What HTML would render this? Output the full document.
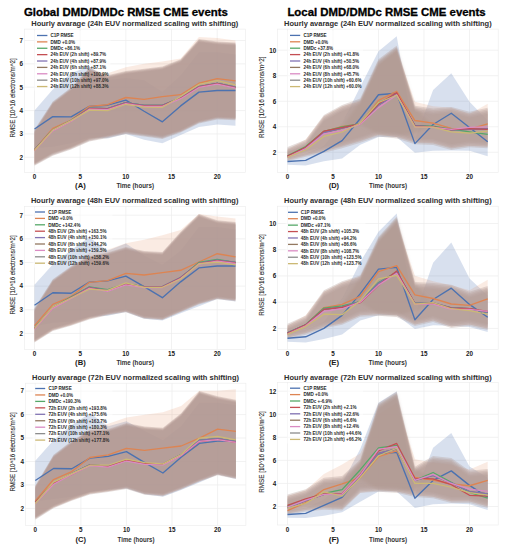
<!DOCTYPE html>
<html><head><meta charset="utf-8"><title>DMD/DMDc RMSE CME events</title>
<style>html,body{margin:0;padding:0;background:#fff;}svg{display:block;}text{font-family:"Liberation Sans",sans-serif;}</style>
</head><body>
<svg width="506" height="550" viewBox="0 0 506 550" font-family='"Liberation Sans", sans-serif' fill="#1a1a1a">
<defs><filter id="soft" x="-20%" y="-20%" width="140%" height="140%"><feGaussianBlur stdDeviation="1.6"/></filter></defs>
<rect width="506" height="550" fill="#fff"/>
<text x="23.9" y="15.7" font-size="10.6" font-weight="bold" text-anchor="start" textLength="204" lengthAdjust="spacingAndGlyphs" stroke="#000" stroke-width="0.3" fill="#000">Global DMD/DMDc RMSE CME events</text>
<text x="287.4" y="15.7" font-size="10.6" font-weight="bold" text-anchor="start" textLength="198.3" lengthAdjust="spacingAndGlyphs" stroke="#000" stroke-width="0.3" fill="#000">Local DMD/DMDc RMSE CME events</text>
<g stroke="#ededed" stroke-width="0.7" fill="none">
<line x1="24.4" y1="157.3" x2="245.4" y2="157.3"/>
<line x1="24.4" y1="133.94" x2="245.4" y2="133.94"/>
<line x1="24.4" y1="110.58" x2="245.4" y2="110.58"/>
<line x1="24.4" y1="87.22" x2="245.4" y2="87.22"/>
<line x1="24.4" y1="63.86" x2="245.4" y2="63.86"/>
<line x1="24.4" y1="40.5" x2="245.4" y2="40.5"/>
<line x1="34.5" y1="29.1" x2="34.5" y2="172.3"/>
<line x1="80.17" y1="29.1" x2="80.17" y2="172.3"/>
<line x1="125.85" y1="29.1" x2="125.85" y2="172.3"/>
<line x1="171.53" y1="29.1" x2="171.53" y2="172.3"/>
<line x1="217.2" y1="29.1" x2="217.2" y2="172.3"/>
</g>
<rect x="34.1" y="30.6" width="76.5" height="60" fill="#fff" fill-opacity="0.5"/>
<polygon points="34.5,110.58 52.77,89.56 71.04,73.2 89.31,66.2 107.58,80.21 125.85,77.88 144.12,80.21 162.39,91.89 180.66,75.54 198.93,52.18 217.2,52.18 235.47,54.52 235.47,125.76 217.2,124.6 198.93,126.93 180.66,135.11 162.39,143.28 144.12,139.78 125.85,133.94 107.58,138.61 89.31,137.44 71.04,143.28 52.77,146.79 34.5,147.96" fill="#4c72b0" fill-opacity="0.22"/>
<polygon points="34.5,133.94 52.77,103.57 71.04,89.56 89.31,70.87 107.58,73.2 125.85,67.36 144.12,63.86 162.39,61.52 180.66,58.49 198.93,37 217.2,37.93 235.47,40.5 235.47,118.76 217.2,117.59 198.93,122.26 180.66,131.6 162.39,135.11 144.12,133.94 125.85,131.6 107.58,136.28 89.31,138.61 71.04,147.96 52.77,152.63 34.5,164.31" fill="#dd8452" fill-opacity="0.16"/>
<polygon points="34.5,129.54 52.77,101.5 71.04,87.49 89.31,67.63 107.58,75.34 125.85,70.9 144.12,68.8 162.39,66.46 180.66,59.22 198.93,38.9 217.2,41.47 235.47,42.4 235.47,120.36 217.2,119.42 198.93,123.39 180.66,132.5 162.39,139.04 144.12,136.48 125.85,133.91 107.58,138.11 89.31,141.61 71.04,149.56 52.77,155.86 34.5,165.68" fill="#b19891" fill-opacity="0.35"/>
<polygon points="34.5,130.29 52.77,102.25 71.04,88.24 89.31,68.38 107.58,76.09 125.85,71.65 144.12,69.55 162.39,67.21 180.66,59.97 198.93,39.65 217.2,42.22 235.47,43.15 235.47,119.61 217.2,118.67 198.93,122.64 180.66,131.75 162.39,138.29 144.12,135.73 125.85,133.16 107.58,137.36 89.31,140.86 71.04,148.81 52.77,155.11 34.5,164.93" fill="#b19891" fill-opacity="0.35"/>
<polygon points="34.5,131.04 52.77,103 71.04,88.99 89.31,69.13 107.58,76.84 125.85,72.4 144.12,70.3 162.39,67.96 180.66,60.72 198.93,40.4 217.2,42.97 235.47,43.9 235.47,118.86 217.2,117.92 198.93,121.89 180.66,131 162.39,137.54 144.12,134.98 125.85,132.41 107.58,136.61 89.31,140.11 71.04,148.06 52.77,154.36 34.5,164.18" fill="#b19891" fill-opacity="0.35"/>
<polygon points="34.5,131.79 52.77,103.75 71.04,89.74 89.31,69.88 107.58,77.59 125.85,73.15 144.12,71.05 162.39,68.71 180.66,61.47 198.93,41.15 217.2,43.72 235.47,44.65 235.47,118.11 217.2,117.17 198.93,121.14 180.66,130.25 162.39,136.79 144.12,134.23 125.85,131.66 107.58,135.86 89.31,139.36 71.04,147.31 52.77,153.61 34.5,163.43" fill="#b19891" fill-opacity="0.35"/>
<polygon points="34.5,132.54 52.77,104.5 71.04,90.49 89.31,70.63 107.58,78.34 125.85,73.9 144.12,71.8 162.39,69.46 180.66,62.22 198.93,41.9 217.2,44.47 235.47,45.4 235.47,117.36 217.2,116.42 198.93,120.39 180.66,129.5 162.39,136.04 144.12,133.48 125.85,130.91 107.58,135.11 89.31,138.61 71.04,146.56 52.77,152.86 34.5,162.68" fill="#b19891" fill-opacity="0.35"/>
<polyline points="34.5,129.03 52.77,116.65 71.04,116.89 89.31,106.38 107.58,105.21 125.85,100.07 144.12,111.28 162.39,121.79 180.66,105.91 198.93,92.13 217.2,90.49 235.47,90.49" fill="none" stroke="#4c72b0" stroke-width="1.35" stroke-linejoin="round"/>
<polyline points="34.5,149.59 52.77,128.33 71.04,120.16 89.31,106.38 107.58,104.74 125.85,97.5 144.12,99.37 162.39,96.56 180.66,94.7 198.93,83.25 217.2,78.58 235.47,80.91" fill="none" stroke="#dd8452" stroke-width="1.35" stroke-linejoin="round"/>
<polyline points="34.5,149.82 52.77,129.97 71.04,120.62 89.31,108.24 107.58,108.71 125.85,102.64 144.12,105.44 162.39,105.44 180.66,97.73 198.93,86.52 217.2,83.25 235.47,87.22" fill="none" stroke="#8c8c8c" stroke-width="1.25" stroke-linejoin="round"/>
<polyline points="34.5,149.82 52.77,129.97 71.04,120.62 89.31,108.24 107.58,108.71 125.85,102.64 144.12,105.44 162.39,105.44 180.66,97.73 198.93,86.52 217.2,83.25 235.47,87.22" fill="none" stroke="#937860" stroke-width="1.25" stroke-linejoin="round"/>
<polyline points="34.5,149.82 52.77,129.97 71.04,120.62 89.31,108.24 107.58,108.71 125.85,102.64 144.12,105.44 162.39,105.44 180.66,97.73 198.93,86.52 217.2,83.25 235.47,87.22" fill="none" stroke="#55a868" stroke-width="1.25" stroke-linejoin="round"/>
<polyline points="34.5,149.82 52.77,129.97 71.04,120.62 89.31,108.24 107.58,108.71 125.85,102.64 144.12,105.44 162.39,105.44 180.66,97.73 198.93,86.52 217.2,83.25 235.47,87.22" fill="none" stroke="#8172b3" stroke-width="1.25" stroke-linejoin="round"/>
<polyline points="34.5,150.29 52.77,130.44 71.04,121.09 89.31,108.71 107.58,109.18 125.85,103.1 144.12,105.91 162.39,105.91 180.66,98.2 198.93,86.99 217.2,83.72 235.47,87.69" fill="none" stroke="#c44e52" stroke-width="1.25" stroke-linejoin="round"/>
<polyline points="34.5,150.76 52.77,130.9 71.04,121.56 89.31,109.18 107.58,109.65 125.85,103.57 144.12,106.38 162.39,106.38 180.66,98.67 198.93,87.45 217.2,84.18 235.47,88.15" fill="none" stroke="#da8bc3" stroke-width="1.25" stroke-linejoin="round"/>
<polyline points="34.5,150.53 52.77,129.97 71.04,120.62 89.31,110.11 107.58,110.58 125.85,104.27 144.12,107.08 162.39,107.31 180.66,96.56 198.93,84.42 217.2,80.68 235.47,84.88" fill="none" stroke="#ccb974" stroke-width="1.25" stroke-linejoin="round"/>
<rect x="24.4" y="29.1" width="221" height="143.2" fill="none" stroke="#ececec" stroke-width="0.6"/>
<line x1="37" y1="35.5" x2="47.4" y2="35.5" stroke="#4c72b0" stroke-width="1.3"/>
<text x="50.4" y="37.25" font-size="5" font-weight="bold" text-anchor="start" textLength="23.18" lengthAdjust="spacingAndGlyphs" fill="#2a2a2a">C1P RMSE</text>
<line x1="37" y1="41.88" x2="47.4" y2="41.88" stroke="#dd8452" stroke-width="1.3"/>
<text x="50.4" y="43.63" font-size="5" font-weight="bold" text-anchor="start" textLength="24.65" lengthAdjust="spacingAndGlyphs" fill="#2a2a2a">DMD +0.0%</text>
<line x1="37" y1="48.26" x2="47.4" y2="48.26" stroke="#55a868" stroke-width="1.3"/>
<text x="50.4" y="50.01" font-size="5" font-weight="bold" text-anchor="start" textLength="29.71" lengthAdjust="spacingAndGlyphs" fill="#2a2a2a">DMDc +86.1%</text>
<line x1="37" y1="54.64" x2="47.4" y2="54.64" stroke="#c44e52" stroke-width="1.3"/>
<text x="50.4" y="56.39" font-size="5" font-weight="bold" text-anchor="start" textLength="55.75" lengthAdjust="spacingAndGlyphs" fill="#2a2a2a">24h EUV (2h shift) +89.7%</text>
<line x1="37" y1="61.02" x2="47.4" y2="61.02" stroke="#8172b3" stroke-width="1.3"/>
<text x="50.4" y="62.77" font-size="5" font-weight="bold" text-anchor="start" textLength="55.75" lengthAdjust="spacingAndGlyphs" fill="#2a2a2a">24h EUV (4h shift) +87.9%</text>
<line x1="37" y1="67.4" x2="47.4" y2="67.4" stroke="#937860" stroke-width="1.3"/>
<text x="50.4" y="69.15" font-size="5" font-weight="bold" text-anchor="start" textLength="55.75" lengthAdjust="spacingAndGlyphs" fill="#2a2a2a">24h EUV (6h shift) +87.1%</text>
<line x1="37" y1="73.78" x2="47.4" y2="73.78" stroke="#da8bc3" stroke-width="1.3"/>
<text x="50.4" y="75.53" font-size="5" font-weight="bold" text-anchor="start" textLength="58.28" lengthAdjust="spacingAndGlyphs" fill="#2a2a2a">24h EUV (8h shift) +100.9%</text>
<line x1="37" y1="80.16" x2="47.4" y2="80.16" stroke="#8c8c8c" stroke-width="1.3"/>
<text x="50.4" y="81.91" font-size="5" font-weight="bold" text-anchor="start" textLength="58.28" lengthAdjust="spacingAndGlyphs" fill="#2a2a2a">24h EUV (10h shift) +97.0%</text>
<line x1="37" y1="86.54" x2="47.4" y2="86.54" stroke="#ccb974" stroke-width="1.3"/>
<text x="50.4" y="88.29" font-size="5" font-weight="bold" text-anchor="start" textLength="58.28" lengthAdjust="spacingAndGlyphs" fill="#2a2a2a">24h EUV (12h shift) +88.3%</text>
<text x="23.1" y="159.6" font-size="6.3" font-weight="bold" text-anchor="end">2</text>
<text x="23.1" y="136.24" font-size="6.3" font-weight="bold" text-anchor="end">3</text>
<text x="23.1" y="112.88" font-size="6.3" font-weight="bold" text-anchor="end">4</text>
<text x="23.1" y="89.52" font-size="6.3" font-weight="bold" text-anchor="end">5</text>
<text x="23.1" y="66.16" font-size="6.3" font-weight="bold" text-anchor="end">6</text>
<text x="23.1" y="42.8" font-size="6.3" font-weight="bold" text-anchor="end">7</text>
<text x="34.5" y="179" font-size="6.3" font-weight="bold" text-anchor="middle">0</text>
<text x="80.17" y="179" font-size="6.3" font-weight="bold" text-anchor="middle">5</text>
<text x="125.85" y="179" font-size="6.3" font-weight="bold" text-anchor="middle">10</text>
<text x="171.53" y="179" font-size="6.3" font-weight="bold" text-anchor="middle">15</text>
<text x="217.2" y="179" font-size="6.3" font-weight="bold" text-anchor="middle">20</text>
<text x="31.3" y="26.2" font-size="7" font-weight="bold" text-anchor="start" textLength="207" lengthAdjust="spacingAndGlyphs" fill="#2e2e2e">Hourly avarage (24h EUV normalized scaling with shifting)</text>
<text x="75.1" y="188" font-size="6.9" font-weight="bold" text-anchor="start" textLength="10.7" lengthAdjust="spacingAndGlyphs">(A)</text>
<text x="116.4" y="188" font-size="7" font-weight="bold" text-anchor="start" textLength="37.6" lengthAdjust="spacingAndGlyphs" fill="#333">Time (hours)</text>
<text x="0" y="0" font-size="6.5" font-weight="normal" fill="#2a2a2a" stroke="#2a2a2a" stroke-width="0.1" text-anchor="middle" textLength="79.2" lengthAdjust="spacingAndGlyphs" transform="translate(14.6,97.9) rotate(-90)">RMSE [10^16 electrons/m^2]</text>
<g stroke="#ededed" stroke-width="0.7" fill="none">
<line x1="24.4" y1="333.4" x2="245.4" y2="333.4"/>
<line x1="24.4" y1="309.76" x2="245.4" y2="309.76"/>
<line x1="24.4" y1="286.12" x2="245.4" y2="286.12"/>
<line x1="24.4" y1="262.48" x2="245.4" y2="262.48"/>
<line x1="24.4" y1="238.84" x2="245.4" y2="238.84"/>
<line x1="24.4" y1="215.2" x2="245.4" y2="215.2"/>
<line x1="34.5" y1="206.4" x2="34.5" y2="349.4"/>
<line x1="80.17" y1="206.4" x2="80.17" y2="349.4"/>
<line x1="125.85" y1="206.4" x2="125.85" y2="349.4"/>
<line x1="171.53" y1="206.4" x2="171.53" y2="349.4"/>
<line x1="217.2" y1="206.4" x2="217.2" y2="349.4"/>
</g>
<rect x="32.5" y="207.6" width="80" height="60" fill="#fff" fill-opacity="0.5"/>
<polygon points="34.5,284.7 52.77,264.61 71.04,250.19 89.31,237.19 107.58,250.66 125.85,243.57 144.12,255.39 162.39,264.84 180.66,250.66 198.93,227.02 217.2,227.02 235.47,229.38 235.47,301.49 217.2,299.12 198.93,306.21 180.66,313.31 162.39,320.4 144.12,318.74 125.85,312.12 107.58,315.67 89.31,316.85 71.04,321.58 52.77,322.76 34.5,326.31" fill="#4c72b0" fill-opacity="0.22"/>
<polygon points="34.5,312.12 52.77,281.39 71.04,267.21 89.31,253.02 107.58,249.71 125.85,243.33 144.12,239.79 162.39,235.29 180.66,230.09 198.93,214.02 217.2,216.62 235.47,218.51 235.47,300.3 217.2,298.41 198.93,303.61 180.66,311.41 162.39,319.22 144.12,317.8 125.85,311.41 107.58,314.25 89.31,318.51 71.04,324.89 52.77,330.09 34.5,341.67" fill="#dd8452" fill-opacity="0.16"/>
<polygon points="34.5,307.91 52.77,279.31 71.04,266.31 89.31,255.91 107.58,252.6 125.85,246.92 144.12,250.94 162.39,252.12 180.66,231.79 198.93,214.06 217.2,220.21 235.47,222.1 235.47,301.2 217.2,299.31 198.93,304.51 180.66,312.31 162.39,320.12 144.12,318.7 125.85,312.31 107.58,315.15 89.31,319.41 71.04,325.79 52.77,330.99 34.5,342.57" fill="#b19891" fill-opacity="0.35"/>
<polygon points="34.5,308.66 52.77,280.06 71.04,267.06 89.31,256.66 107.58,253.35 125.85,247.67 144.12,251.69 162.39,252.87 180.66,232.54 198.93,214.81 217.2,220.96 235.47,222.85 235.47,300.45 217.2,298.56 198.93,303.76 180.66,311.56 162.39,319.37 144.12,317.95 125.85,311.56 107.58,314.4 89.31,318.66 71.04,325.04 52.77,330.24 34.5,341.82" fill="#b19891" fill-opacity="0.35"/>
<polygon points="34.5,309.41 52.77,280.81 71.04,267.81 89.31,257.41 107.58,254.1 125.85,248.42 144.12,252.44 162.39,253.62 180.66,233.29 198.93,215.56 217.2,221.71 235.47,223.6 235.47,299.7 217.2,297.81 198.93,303.01 180.66,310.81 162.39,318.62 144.12,317.2 125.85,310.81 107.58,313.65 89.31,317.91 71.04,324.29 52.77,329.49 34.5,341.07" fill="#b19891" fill-opacity="0.35"/>
<polygon points="34.5,310.16 52.77,281.56 71.04,268.56 89.31,258.16 107.58,254.85 125.85,249.17 144.12,253.19 162.39,254.37 180.66,234.04 198.93,216.31 217.2,222.46 235.47,224.35 235.47,298.95 217.2,297.06 198.93,302.26 180.66,310.06 162.39,317.87 144.12,316.45 125.85,310.06 107.58,312.9 89.31,317.16 71.04,323.54 52.77,328.74 34.5,340.32" fill="#b19891" fill-opacity="0.35"/>
<polygon points="34.5,310.91 52.77,282.31 71.04,269.31 89.31,258.91 107.58,255.6 125.85,249.92 144.12,253.94 162.39,255.12 180.66,234.79 198.93,217.06 217.2,223.21 235.47,225.1 235.47,298.2 217.2,296.31 198.93,301.51 180.66,309.31 162.39,317.12 144.12,315.7 125.85,309.31 107.58,312.15 89.31,316.41 71.04,322.79 52.77,327.99 34.5,339.57" fill="#b19891" fill-opacity="0.35"/>
<polyline points="34.5,305.27 52.77,292.74 71.04,293.21 89.31,282.1 107.58,280.92 125.85,276.19 144.12,286.59 162.39,297.7 180.66,281.86 198.93,267.92 217.2,266.03 235.47,266.03" fill="none" stroke="#4c72b0" stroke-width="1.35" stroke-linejoin="round"/>
<polyline points="34.5,325.6 52.77,304.32 71.04,296.52 89.31,282.34 107.58,280.68 125.85,273.35 144.12,275.01 162.39,272.65 180.66,270.28 198.93,262.01 217.2,253.73 235.47,256.81" fill="none" stroke="#dd8452" stroke-width="1.35" stroke-linejoin="round"/>
<polyline points="34.5,328.2 52.77,307.4 71.04,297.47 89.31,287.3 107.58,290.38 125.85,283.99 144.12,286.59 162.39,286.59 180.66,277.61 198.93,263.19 217.2,260.12 235.47,262.48" fill="none" stroke="#8c8c8c" stroke-width="1.25" stroke-linejoin="round"/>
<polyline points="34.5,328.2 52.77,307.4 71.04,297.47 89.31,287.3 107.58,290.38 125.85,283.99 144.12,286.59 162.39,286.59 180.66,277.61 198.93,263.19 217.2,260.12 235.47,262.48" fill="none" stroke="#937860" stroke-width="1.25" stroke-linejoin="round"/>
<polyline points="34.5,328.2 52.77,307.4 71.04,296.99 89.31,286.83 107.58,289.67 125.85,283.76 144.12,286.59 162.39,287.07 180.66,277.61 198.93,262.48 217.2,259.41 235.47,262.48" fill="none" stroke="#55a868" stroke-width="1.25" stroke-linejoin="round"/>
<polyline points="34.5,328.2 52.77,307.4 71.04,297.47 89.31,287.3 107.58,290.38 125.85,283.99 144.12,286.59 162.39,286.59 180.66,277.61 198.93,263.19 217.2,260.12 235.47,262.48" fill="none" stroke="#8172b3" stroke-width="1.25" stroke-linejoin="round"/>
<polyline points="34.5,328.67 52.77,307.87 71.04,297.94 89.31,287.77 107.58,290.85 125.85,284.47 144.12,287.07 162.39,287.07 180.66,278.08 198.93,263.66 217.2,260.59 235.47,262.95" fill="none" stroke="#c44e52" stroke-width="1.25" stroke-linejoin="round"/>
<polyline points="34.5,329.14 52.77,308.34 71.04,298.41 89.31,288.25 107.58,291.32 125.85,284.94 144.12,287.54 162.39,287.54 180.66,278.56 198.93,264.13 217.2,261.06 235.47,263.43" fill="none" stroke="#da8bc3" stroke-width="1.25" stroke-linejoin="round"/>
<polyline points="34.5,328.44 52.77,306.92 71.04,297.94 89.31,289.19 107.58,290.38 125.85,282.81 144.12,287.3 162.39,287.3 180.66,279.03 198.93,263.66 217.2,262.01 235.47,264.84" fill="none" stroke="#ccb974" stroke-width="1.25" stroke-linejoin="round"/>
<rect x="24.4" y="206.4" width="221" height="143" fill="none" stroke="#ececec" stroke-width="0.6"/>
<line x1="35" y1="212" x2="45" y2="212" stroke="#4c72b0" stroke-width="1.3"/>
<text x="48.2" y="213.75" font-size="5" font-weight="bold" text-anchor="start" textLength="23.18" lengthAdjust="spacingAndGlyphs" fill="#2a2a2a">C1P RMSE</text>
<line x1="35" y1="218.4" x2="45" y2="218.4" stroke="#dd8452" stroke-width="1.3"/>
<text x="48.2" y="220.15" font-size="5" font-weight="bold" text-anchor="start" textLength="24.65" lengthAdjust="spacingAndGlyphs" fill="#2a2a2a">DMD +0.0%</text>
<line x1="35" y1="224.8" x2="45" y2="224.8" stroke="#55a868" stroke-width="1.3"/>
<text x="48.2" y="226.55" font-size="5" font-weight="bold" text-anchor="start" textLength="32.24" lengthAdjust="spacingAndGlyphs" fill="#2a2a2a">DMDc +142.4%</text>
<line x1="35" y1="231.2" x2="45" y2="231.2" stroke="#c44e52" stroke-width="1.3"/>
<text x="48.2" y="232.95" font-size="5" font-weight="bold" text-anchor="start" textLength="58.28" lengthAdjust="spacingAndGlyphs" fill="#2a2a2a">48h EUV (2h shift) +163.5%</text>
<line x1="35" y1="237.6" x2="45" y2="237.6" stroke="#8172b3" stroke-width="1.3"/>
<text x="48.2" y="239.35" font-size="5" font-weight="bold" text-anchor="start" textLength="58.28" lengthAdjust="spacingAndGlyphs" fill="#2a2a2a">48h EUV (4h shift) +150.1%</text>
<line x1="35" y1="244" x2="45" y2="244" stroke="#937860" stroke-width="1.3"/>
<text x="48.2" y="245.75" font-size="5" font-weight="bold" text-anchor="start" textLength="58.28" lengthAdjust="spacingAndGlyphs" fill="#2a2a2a">48h EUV (6h shift) +144.2%</text>
<line x1="35" y1="250.4" x2="45" y2="250.4" stroke="#da8bc3" stroke-width="1.3"/>
<text x="48.2" y="252.15" font-size="5" font-weight="bold" text-anchor="start" textLength="58.28" lengthAdjust="spacingAndGlyphs" fill="#2a2a2a">48h EUV (8h shift) +159.5%</text>
<line x1="35" y1="256.8" x2="45" y2="256.8" stroke="#8c8c8c" stroke-width="1.3"/>
<text x="48.2" y="258.55" font-size="5" font-weight="bold" text-anchor="start" textLength="60.81" lengthAdjust="spacingAndGlyphs" fill="#2a2a2a">48h EUV (10h shift) +158.2%</text>
<line x1="35" y1="263.2" x2="45" y2="263.2" stroke="#ccb974" stroke-width="1.3"/>
<text x="48.2" y="264.95" font-size="5" font-weight="bold" text-anchor="start" textLength="60.81" lengthAdjust="spacingAndGlyphs" fill="#2a2a2a">48h EUV (12h shift) +159.6%</text>
<text x="23.1" y="335.7" font-size="6.3" font-weight="bold" text-anchor="end">2</text>
<text x="23.1" y="312.06" font-size="6.3" font-weight="bold" text-anchor="end">3</text>
<text x="23.1" y="288.42" font-size="6.3" font-weight="bold" text-anchor="end">4</text>
<text x="23.1" y="264.78" font-size="6.3" font-weight="bold" text-anchor="end">5</text>
<text x="23.1" y="241.14" font-size="6.3" font-weight="bold" text-anchor="end">6</text>
<text x="23.1" y="217.5" font-size="6.3" font-weight="bold" text-anchor="end">7</text>
<text x="34.5" y="355.8" font-size="6.3" font-weight="bold" text-anchor="middle">0</text>
<text x="80.17" y="355.8" font-size="6.3" font-weight="bold" text-anchor="middle">5</text>
<text x="125.85" y="355.8" font-size="6.3" font-weight="bold" text-anchor="middle">10</text>
<text x="171.53" y="355.8" font-size="6.3" font-weight="bold" text-anchor="middle">15</text>
<text x="217.2" y="355.8" font-size="6.3" font-weight="bold" text-anchor="middle">20</text>
<text x="30.9" y="203" font-size="7" font-weight="bold" text-anchor="start" textLength="207.5" lengthAdjust="spacingAndGlyphs" fill="#2e2e2e">Hourly avarage (48h EUV normalized scaling with shifting)</text>
<text x="75.1" y="365" font-size="6.9" font-weight="bold" text-anchor="start" textLength="10.7" lengthAdjust="spacingAndGlyphs">(B)</text>
<text x="116.4" y="365" font-size="7" font-weight="bold" text-anchor="start" textLength="37.6" lengthAdjust="spacingAndGlyphs" fill="#333">Time (hours)</text>
<text x="0" y="0" font-size="6.5" font-weight="normal" fill="#2a2a2a" stroke="#2a2a2a" stroke-width="0.1" text-anchor="middle" textLength="79.2" lengthAdjust="spacingAndGlyphs" transform="translate(14.6,275) rotate(-90)">RMSE [10^16 electrons/m^2]</text>
<g stroke="#ededed" stroke-width="0.7" fill="none">
<line x1="25.3" y1="508.4" x2="245.9" y2="508.4"/>
<line x1="25.3" y1="484.94" x2="245.9" y2="484.94"/>
<line x1="25.3" y1="461.48" x2="245.9" y2="461.48"/>
<line x1="25.3" y1="438.02" x2="245.9" y2="438.02"/>
<line x1="25.3" y1="414.56" x2="245.9" y2="414.56"/>
<line x1="25.3" y1="391.1" x2="245.9" y2="391.1"/>
<line x1="35.3" y1="383.2" x2="35.3" y2="525.3"/>
<line x1="80.88" y1="383.2" x2="80.88" y2="525.3"/>
<line x1="126.45" y1="383.2" x2="126.45" y2="525.3"/>
<line x1="172.02" y1="383.2" x2="172.02" y2="525.3"/>
<line x1="217.6" y1="383.2" x2="217.6" y2="525.3"/>
</g>
<rect x="32.5" y="384.4" width="80" height="60" fill="#fff" fill-opacity="0.5"/>
<polygon points="35.3,460.78 53.53,440.37 71.76,424.88 89.99,413.15 108.22,426.29 126.45,421.13 144.68,430.98 162.91,440.37 181.14,426.29 199.37,402.83 217.6,402.83 235.83,405.18 235.83,479.07 217.6,474.38 199.37,482.59 181.14,490.1 162.91,496.67 144.68,494.32 126.45,488.46 108.22,489.63 89.99,491.98 71.76,496.67 53.53,499.02 35.3,501.36" fill="#4c72b0" fill-opacity="0.22"/>
<polygon points="35.3,486.11 53.53,456.79 71.76,442.71 89.99,428.64 108.22,423.71 126.45,417.61 144.68,414.79 162.91,412.21 181.14,406.11 199.37,390.87 217.6,390.87 235.83,389.22 235.83,478.14 217.6,474.38 199.37,480.95 181.14,488.69 162.91,495.26 144.68,493.85 126.45,487.99 108.22,491.04 89.99,493.62 71.76,499.95 53.53,507.23 35.3,517.78" fill="#dd8452" fill-opacity="0.16"/>
<polygon points="35.3,485.68 53.53,454.71 71.76,440.64 89.99,430.08 108.22,428.91 126.45,423.04 144.68,426.56 162.91,427.74 181.14,413.19 199.37,390.9 217.6,396.3 235.83,399.82 235.83,479.04 217.6,475.28 199.37,481.85 181.14,489.59 162.91,496.16 144.68,494.75 126.45,488.89 108.22,491.94 89.99,494.52 71.76,500.85 53.53,508.13 35.3,519.86" fill="#b19891" fill-opacity="0.35"/>
<polygon points="35.3,486.43 53.53,455.47 71.76,441.39 89.99,430.83 108.22,429.66 126.45,423.79 144.68,427.31 162.91,428.49 181.14,413.94 199.37,391.65 217.6,397.05 235.83,400.57 235.83,478.29 217.6,474.53 199.37,481.1 181.14,488.84 162.91,495.41 144.68,494 126.45,488.14 108.22,491.19 89.99,493.77 71.76,500.1 53.53,507.38 35.3,519.11" fill="#b19891" fill-opacity="0.35"/>
<polygon points="35.3,487.18 53.53,456.22 71.76,442.14 89.99,431.58 108.22,430.41 126.45,424.54 144.68,428.06 162.91,429.24 181.14,414.69 199.37,392.4 217.6,397.8 235.83,401.32 235.83,477.54 217.6,473.78 199.37,480.35 181.14,488.09 162.91,494.66 144.68,493.25 126.45,487.39 108.22,490.44 89.99,493.02 71.76,499.35 53.53,506.63 35.3,518.36" fill="#b19891" fill-opacity="0.35"/>
<polygon points="35.3,487.93 53.53,456.96 71.76,442.89 89.99,432.33 108.22,431.16 126.45,425.29 144.68,428.81 162.91,429.99 181.14,415.44 199.37,393.15 217.6,398.55 235.83,402.07 235.83,476.79 217.6,473.03 199.37,479.6 181.14,487.34 162.91,493.91 144.68,492.5 126.45,486.64 108.22,489.69 89.99,492.27 71.76,498.6 53.53,505.88 35.3,517.61" fill="#b19891" fill-opacity="0.35"/>
<polygon points="35.3,488.68 53.53,457.72 71.76,443.64 89.99,433.08 108.22,431.91 126.45,426.04 144.68,429.56 162.91,430.74 181.14,416.19 199.37,393.9 217.6,399.3 235.83,402.82 235.83,476.04 217.6,472.28 199.37,478.85 181.14,486.59 162.91,493.16 144.68,491.75 126.45,485.89 108.22,488.94 89.99,491.52 71.76,497.85 53.53,505.13 35.3,516.86" fill="#b19891" fill-opacity="0.35"/>
<polyline points="35.3,480.48 53.53,468.52 71.76,468.75 89.99,458.2 108.22,456.32 126.45,451.63 144.68,462.65 162.91,472.98 181.14,457.26 199.37,443.42 217.6,441.07 235.83,441.07" fill="none" stroke="#4c72b0" stroke-width="1.35" stroke-linejoin="round"/>
<polyline points="35.3,500.89 53.53,479.54 71.76,471.57 89.99,457.49 108.22,454.91 126.45,448.34 144.68,450.45 162.91,448.11 181.14,446 199.37,438.02 217.6,429.11 235.83,431.45" fill="none" stroke="#dd8452" stroke-width="1.35" stroke-linejoin="round"/>
<polyline points="35.3,502.53 53.53,483.3 71.76,473.44 89.99,464.76 108.22,466.17 126.45,460.07 144.68,463.36 162.91,464.06 181.14,454.68 199.37,440.37 217.6,438.72 235.83,441.54" fill="none" stroke="#8c8c8c" stroke-width="1.25" stroke-linejoin="round"/>
<polyline points="35.3,502.53 53.53,483.3 71.76,473.44 89.99,464.76 108.22,466.17 126.45,460.07 144.68,463.36 162.91,464.06 181.14,454.68 199.37,440.37 217.6,438.72 235.83,441.54" fill="none" stroke="#937860" stroke-width="1.25" stroke-linejoin="round"/>
<polyline points="35.3,502.53 53.53,483.3 71.76,473.44 89.99,464.76 108.22,466.17 126.45,460.07 144.68,463.36 162.91,464.06 181.14,454.68 199.37,440.37 217.6,438.72 235.83,441.54" fill="none" stroke="#55a868" stroke-width="1.25" stroke-linejoin="round"/>
<polyline points="35.3,502.53 53.53,483.3 71.76,473.44 89.99,464.76 108.22,466.17 126.45,460.07 144.68,463.36 162.91,464.06 181.14,454.68 199.37,440.37 217.6,438.72 235.83,441.54" fill="none" stroke="#8172b3" stroke-width="1.25" stroke-linejoin="round"/>
<polyline points="35.3,502.53 53.53,483.3 71.76,474.38 89.99,465.23 108.22,466.64 126.45,460.07 144.68,463.36 162.91,464.06 181.14,455.62 199.37,441.54 217.6,439.43 235.83,442.48" fill="none" stroke="#c44e52" stroke-width="1.25" stroke-linejoin="round"/>
<polyline points="35.3,503.47 53.53,484.24 71.76,474.38 89.99,465.7 108.22,467.11 126.45,461.01 144.68,464.3 162.91,465 181.14,455.62 199.37,441.3 217.6,439.66 235.83,442.48" fill="none" stroke="#da8bc3" stroke-width="1.25" stroke-linejoin="round"/>
<polyline points="35.3,503.47 53.53,482.12 71.76,473.68 89.99,465.23 108.22,465.23 126.45,459.13 144.68,462.65 162.91,463.83 181.14,454.44 199.37,438.02 217.6,436.38 235.83,439.9" fill="none" stroke="#ccb974" stroke-width="1.25" stroke-linejoin="round"/>
<rect x="25.3" y="383.2" width="220.6" height="142.1" fill="none" stroke="#ececec" stroke-width="0.6"/>
<line x1="35.2" y1="388.5" x2="45.2" y2="388.5" stroke="#4c72b0" stroke-width="1.3"/>
<text x="48.5" y="390.25" font-size="5" font-weight="bold" text-anchor="start" textLength="23.18" lengthAdjust="spacingAndGlyphs" fill="#2a2a2a">C1P RMSE</text>
<line x1="35.2" y1="394.95" x2="45.2" y2="394.95" stroke="#dd8452" stroke-width="1.3"/>
<text x="48.5" y="396.7" font-size="5" font-weight="bold" text-anchor="start" textLength="24.65" lengthAdjust="spacingAndGlyphs" fill="#2a2a2a">DMD +0.0%</text>
<line x1="35.2" y1="401.4" x2="45.2" y2="401.4" stroke="#55a868" stroke-width="1.3"/>
<text x="48.5" y="403.15" font-size="5" font-weight="bold" text-anchor="start" textLength="32.24" lengthAdjust="spacingAndGlyphs" fill="#2a2a2a">DMDc +190.3%</text>
<line x1="35.2" y1="407.85" x2="45.2" y2="407.85" stroke="#c44e52" stroke-width="1.3"/>
<text x="48.5" y="409.6" font-size="5" font-weight="bold" text-anchor="start" textLength="58.28" lengthAdjust="spacingAndGlyphs" fill="#2a2a2a">72h EUV (2h shift) +193.8%</text>
<line x1="35.2" y1="414.3" x2="45.2" y2="414.3" stroke="#8172b3" stroke-width="1.3"/>
<text x="48.5" y="416.05" font-size="5" font-weight="bold" text-anchor="start" textLength="58.28" lengthAdjust="spacingAndGlyphs" fill="#2a2a2a">72h EUV (4h shift) +175.6%</text>
<line x1="35.2" y1="420.75" x2="45.2" y2="420.75" stroke="#937860" stroke-width="1.3"/>
<text x="48.5" y="422.5" font-size="5" font-weight="bold" text-anchor="start" textLength="58.28" lengthAdjust="spacingAndGlyphs" fill="#2a2a2a">72h EUV (6h shift) +163.7%</text>
<line x1="35.2" y1="427.2" x2="45.2" y2="427.2" stroke="#da8bc3" stroke-width="1.3"/>
<text x="48.5" y="428.95" font-size="5" font-weight="bold" text-anchor="start" textLength="58.28" lengthAdjust="spacingAndGlyphs" fill="#2a2a2a">72h EUV (8h shift) +180.3%</text>
<line x1="35.2" y1="433.65" x2="45.2" y2="433.65" stroke="#8c8c8c" stroke-width="1.3"/>
<text x="48.5" y="435.4" font-size="5" font-weight="bold" text-anchor="start" textLength="60.81" lengthAdjust="spacingAndGlyphs" fill="#2a2a2a">72h EUV (10h shift) +177.1%</text>
<line x1="35.2" y1="440.1" x2="45.2" y2="440.1" stroke="#ccb974" stroke-width="1.3"/>
<text x="48.5" y="441.85" font-size="5" font-weight="bold" text-anchor="start" textLength="60.81" lengthAdjust="spacingAndGlyphs" fill="#2a2a2a">72h EUV (12h shift) +177.8%</text>
<text x="23.9" y="510.7" font-size="6.3" font-weight="bold" text-anchor="end">2</text>
<text x="23.9" y="487.24" font-size="6.3" font-weight="bold" text-anchor="end">3</text>
<text x="23.9" y="463.78" font-size="6.3" font-weight="bold" text-anchor="end">4</text>
<text x="23.9" y="440.32" font-size="6.3" font-weight="bold" text-anchor="end">5</text>
<text x="23.9" y="416.86" font-size="6.3" font-weight="bold" text-anchor="end">6</text>
<text x="23.9" y="393.4" font-size="6.3" font-weight="bold" text-anchor="end">7</text>
<text x="35.3" y="532.2" font-size="6.3" font-weight="bold" text-anchor="middle">0</text>
<text x="80.88" y="532.2" font-size="6.3" font-weight="bold" text-anchor="middle">5</text>
<text x="126.45" y="532.2" font-size="6.3" font-weight="bold" text-anchor="middle">10</text>
<text x="172.02" y="532.2" font-size="6.3" font-weight="bold" text-anchor="middle">15</text>
<text x="217.6" y="532.2" font-size="6.3" font-weight="bold" text-anchor="middle">20</text>
<text x="32" y="379.5" font-size="7" font-weight="bold" text-anchor="start" textLength="207" lengthAdjust="spacingAndGlyphs" fill="#2e2e2e">Hourly avarage (72h EUV normalized scaling with shifting)</text>
<text x="75.5" y="541.7" font-size="6.9" font-weight="bold" text-anchor="start" textLength="10.5" lengthAdjust="spacingAndGlyphs">(C)</text>
<text x="117.6" y="541.7" font-size="7" font-weight="bold" text-anchor="start" textLength="36.9" lengthAdjust="spacingAndGlyphs" fill="#333">Time (hours)</text>
<text x="0" y="0" font-size="6.5" font-weight="normal" fill="#2a2a2a" stroke="#2a2a2a" stroke-width="0.1" text-anchor="middle" textLength="79.2" lengthAdjust="spacingAndGlyphs" transform="translate(15.4,452) rotate(-90)">RMSE [10^16 electrons/m^2]</text>
<g stroke="#ededed" stroke-width="0.7" fill="none">
<line x1="277.4" y1="152.3" x2="498.2" y2="152.3"/>
<line x1="277.4" y1="126.78" x2="498.2" y2="126.78"/>
<line x1="277.4" y1="101.25" x2="498.2" y2="101.25"/>
<line x1="277.4" y1="75.73" x2="498.2" y2="75.73"/>
<line x1="277.4" y1="50.2" x2="498.2" y2="50.2"/>
<line x1="287.5" y1="29.1" x2="287.5" y2="172.3"/>
<line x1="333" y1="29.1" x2="333" y2="172.3"/>
<line x1="378.5" y1="29.1" x2="378.5" y2="172.3"/>
<line x1="424" y1="29.1" x2="424" y2="172.3"/>
<line x1="469.5" y1="29.1" x2="469.5" y2="172.3"/>
</g>
<rect x="287.1" y="30.6" width="76" height="60" fill="#fff" fill-opacity="0.5"/>
<polygon points="287.5,157.41 305.7,153.58 323.9,145.92 342.1,122.95 360.3,86.83 378.5,51.22 396.7,36.16 414.9,139.54 433.1,89.89 451.3,73.17 469.5,101.63 487.7,120.39 487.7,156.13 469.5,150.77 451.3,150.39 433.1,150.77 414.9,152.68 396.7,136.99 378.5,136.99 360.3,144.64 342.1,158.55 323.9,161.23 305.7,165.57 287.5,164.68" fill="#4c72b0" fill-opacity="0.22"/>
<polygon points="287.5,149.75 305.7,139.54 323.9,115.93 342.1,106.36 360.3,101.25 378.5,65.52 396.7,50.2 414.9,101.63 433.1,106.36 451.3,107.63 469.5,114.01 487.7,103.8 487.7,146.56 469.5,145.92 451.3,147.83 433.1,143.37 414.9,142.09 396.7,136.99 378.5,134.43 360.3,140.81 342.1,145.92 323.9,151.02 305.7,155.49 287.5,160.6" fill="#dd8452" fill-opacity="0.16"/>
<polygon points="287.5,146.93 305.7,139.78 323.9,114.89 342.1,105.07 360.3,98.43 378.5,59.25 396.7,45.85 414.9,105.83 433.1,108.38 451.3,107.11 469.5,111.83 487.7,107.75 487.7,148.36 469.5,147.34 451.3,150.02 433.1,144.91 414.9,144.15 396.7,138.53 378.5,136.49 360.3,142.74 342.1,148.36 323.9,152.82 305.7,156.78 287.5,161.25" fill="#b59d97" fill-opacity="0.35"/>
<polygon points="287.5,148.43 305.7,141.28 323.9,116.39 342.1,106.57 360.3,99.93 378.5,60.75 396.7,47.35 414.9,107.33 433.1,109.88 451.3,108.61 469.5,113.33 487.7,109.25 487.7,146.86 469.5,145.84 451.3,148.52 433.1,143.41 414.9,142.65 396.7,137.03 378.5,134.99 360.3,141.24 342.1,146.86 323.9,151.32 305.7,155.28 287.5,159.75" fill="#b59d97" fill-opacity="0.35"/>
<polygon points="287.5,149.93 305.7,142.78 323.9,117.89 342.1,108.07 360.3,101.43 378.5,62.25 396.7,48.85 414.9,108.83 433.1,111.38 451.3,110.11 469.5,114.83 487.7,110.75 487.7,145.36 469.5,144.34 451.3,147.02 433.1,141.91 414.9,141.15 396.7,135.53 378.5,133.49 360.3,139.74 342.1,145.36 323.9,149.82 305.7,153.78 287.5,158.25" fill="#b59d97" fill-opacity="0.35"/>
<polygon points="287.5,151.43 305.7,144.28 323.9,119.39 342.1,109.57 360.3,102.93 378.5,63.75 396.7,50.35 414.9,110.33 433.1,112.88 451.3,111.61 469.5,116.33 487.7,112.25 487.7,143.86 469.5,142.84 451.3,145.52 433.1,140.41 414.9,139.65 396.7,134.03 378.5,131.99 360.3,138.24 342.1,143.86 323.9,148.32 305.7,152.28 287.5,156.75" fill="#b59d97" fill-opacity="0.35"/>
<polygon points="287.5,151.94 305.7,145.6 323.9,120.89 342.1,111.07 360.3,104.43 378.5,65.25 396.7,51.85 414.9,111.83 433.1,114.38 451.3,113.11 469.5,117.83 487.7,113.75 487.7,142.36 469.5,141.34 451.3,144.02 433.1,138.91 414.9,138.15 396.7,132.53 378.5,130.49 360.3,136.74 342.1,142.36 323.9,146.82 305.7,150.96 287.5,156.23" fill="#b59d97" fill-opacity="0.35"/>
<polygon points="342.1,126.78 360.3,101.25 378.5,61.69 396.7,47.65 414.9,107.63 433.1,125.5 433.1,125.5 414.9,133.16 396.7,135.71 378.5,134.43 360.3,124.22 342.1,126.78" fill="#ac948a" fill-opacity="0.4" filter="url(#soft)"/>
<polyline points="287.5,161.49 305.7,160.34 323.9,151.41 342.1,140.69 360.3,118.48 378.5,94.74 396.7,93.21 414.9,143.62 433.1,124.48 451.3,113.25 469.5,127.41 487.7,141.71" fill="none" stroke="#4c72b0" stroke-width="1.35" stroke-linejoin="round"/>
<polyline points="287.5,156.77 305.7,147.19 323.9,131.62 342.1,126.39 360.3,123.84 378.5,100.36 396.7,91.3 414.9,120.52 433.1,123.2 451.3,128.43 469.5,129.07 487.7,123.84" fill="none" stroke="#dd8452" stroke-width="1.35" stroke-linejoin="round"/>
<polyline points="287.5,156.64 305.7,147.83 323.9,132.52 342.1,128.05 360.3,123.58 378.5,105.08 396.7,93.98 414.9,125.5 433.1,126.78 451.3,129.97 469.5,129.33 487.7,128.69" fill="none" stroke="#8c8c8c" stroke-width="1.25" stroke-linejoin="round"/>
<polyline points="287.5,156.64 305.7,147.83 323.9,132.52 342.1,128.05 360.3,123.58 378.5,105.08 396.7,93.98 414.9,125.5 433.1,126.78 451.3,129.97 469.5,129.33 487.7,128.69" fill="none" stroke="#937860" stroke-width="1.25" stroke-linejoin="round"/>
<polyline points="287.5,155.75 305.7,146.56 323.9,131.24 342.1,126.78 360.3,123.58 378.5,102.53 396.7,95.25 414.9,125.5 433.1,126.14 451.3,129.07 469.5,131.88 487.7,134.3" fill="none" stroke="#55a868" stroke-width="1.25" stroke-linejoin="round"/>
<polyline points="287.5,156.64 305.7,147.83 323.9,132.52 342.1,128.05 360.3,123.58 378.5,105.08 396.7,93.98 414.9,125.5 433.1,126.78 451.3,129.97 469.5,129.33 487.7,128.69" fill="none" stroke="#8172b3" stroke-width="1.25" stroke-linejoin="round"/>
<polyline points="287.5,156.13 305.7,147.19 323.9,131.11 342.1,127.54 360.3,123.84 378.5,103.8 396.7,92.7 414.9,126.14 433.1,126.78 451.3,129.58 469.5,128.69 487.7,129.33" fill="none" stroke="#c44e52" stroke-width="1.25" stroke-linejoin="round"/>
<polyline points="287.5,157.41 305.7,148.47 323.9,133.79 342.1,130.6 360.3,124.22 378.5,107.63 396.7,94.87 414.9,126.78 433.1,127.41 451.3,129.33 469.5,127.29 487.7,126.9" fill="none" stroke="#da8bc3" stroke-width="1.25" stroke-linejoin="round"/>
<polyline points="287.5,157.41 305.7,149.75 323.9,136.47 342.1,132.01 360.3,122.95 378.5,102.53 396.7,95.25 414.9,126.78 433.1,127.16 451.3,131.88 469.5,133.16 487.7,131.11" fill="none" stroke="#ccb974" stroke-width="1.25" stroke-linejoin="round"/>
<rect x="277.4" y="29.1" width="220.8" height="143.2" fill="none" stroke="#ececec" stroke-width="0.6"/>
<line x1="290" y1="35.4" x2="300.2" y2="35.4" stroke="#4c72b0" stroke-width="1.3"/>
<text x="303.4" y="37.15" font-size="5" font-weight="bold" text-anchor="start" textLength="23.18" lengthAdjust="spacingAndGlyphs" fill="#2a2a2a">C1P RMSE</text>
<line x1="290" y1="41.8" x2="300.2" y2="41.8" stroke="#dd8452" stroke-width="1.3"/>
<text x="303.4" y="43.55" font-size="5" font-weight="bold" text-anchor="start" textLength="24.65" lengthAdjust="spacingAndGlyphs" fill="#2a2a2a">DMD +0.0%</text>
<line x1="290" y1="48.2" x2="300.2" y2="48.2" stroke="#55a868" stroke-width="1.3"/>
<text x="303.4" y="49.95" font-size="5" font-weight="bold" text-anchor="start" textLength="29.71" lengthAdjust="spacingAndGlyphs" fill="#2a2a2a">DMDc +37.8%</text>
<line x1="290" y1="54.6" x2="300.2" y2="54.6" stroke="#c44e52" stroke-width="1.3"/>
<text x="303.4" y="56.35" font-size="5" font-weight="bold" text-anchor="start" textLength="55.75" lengthAdjust="spacingAndGlyphs" fill="#2a2a2a">24h EUV (2h shift) +41.8%</text>
<line x1="290" y1="61" x2="300.2" y2="61" stroke="#8172b3" stroke-width="1.3"/>
<text x="303.4" y="62.75" font-size="5" font-weight="bold" text-anchor="start" textLength="55.75" lengthAdjust="spacingAndGlyphs" fill="#2a2a2a">24h EUV (4h shift) +50.5%</text>
<line x1="290" y1="67.4" x2="300.2" y2="67.4" stroke="#937860" stroke-width="1.3"/>
<text x="303.4" y="69.15" font-size="5" font-weight="bold" text-anchor="start" textLength="55.75" lengthAdjust="spacingAndGlyphs" fill="#2a2a2a">24h EUV (6h shift) +68.0%</text>
<line x1="290" y1="73.8" x2="300.2" y2="73.8" stroke="#da8bc3" stroke-width="1.3"/>
<text x="303.4" y="75.55" font-size="5" font-weight="bold" text-anchor="start" textLength="55.75" lengthAdjust="spacingAndGlyphs" fill="#2a2a2a">24h EUV (8h shift) +45.7%</text>
<line x1="290" y1="80.2" x2="300.2" y2="80.2" stroke="#8c8c8c" stroke-width="1.3"/>
<text x="303.4" y="81.95" font-size="5" font-weight="bold" text-anchor="start" textLength="58.28" lengthAdjust="spacingAndGlyphs" fill="#2a2a2a">24h EUV (10h shift) +60.6%</text>
<line x1="290" y1="86.6" x2="300.2" y2="86.6" stroke="#ccb974" stroke-width="1.3"/>
<text x="303.4" y="88.35" font-size="5" font-weight="bold" text-anchor="start" textLength="58.28" lengthAdjust="spacingAndGlyphs" fill="#2a2a2a">24h EUV (12h shift) +60.0%</text>
<text x="276.3" y="154.6" font-size="6.3" font-weight="bold" text-anchor="end">2</text>
<text x="276.3" y="129.08" font-size="6.3" font-weight="bold" text-anchor="end">4</text>
<text x="276.3" y="103.55" font-size="6.3" font-weight="bold" text-anchor="end">6</text>
<text x="276.3" y="78.03" font-size="6.3" font-weight="bold" text-anchor="end">8</text>
<text x="276.3" y="52.5" font-size="6.3" font-weight="bold" text-anchor="end">10</text>
<text x="287.5" y="179" font-size="6.3" font-weight="bold" text-anchor="middle">0</text>
<text x="333" y="179" font-size="6.3" font-weight="bold" text-anchor="middle">5</text>
<text x="378.5" y="179" font-size="6.3" font-weight="bold" text-anchor="middle">10</text>
<text x="424" y="179" font-size="6.3" font-weight="bold" text-anchor="middle">15</text>
<text x="469.5" y="179" font-size="6.3" font-weight="bold" text-anchor="middle">20</text>
<text x="284.1" y="26.2" font-size="7" font-weight="bold" text-anchor="start" textLength="207.6" lengthAdjust="spacingAndGlyphs" fill="#2e2e2e">Hourly avarage (24h EUV normalized scaling with shifting)</text>
<text x="328.7" y="188" font-size="6.9" font-weight="bold" text-anchor="start" textLength="10.4" lengthAdjust="spacingAndGlyphs">(D)</text>
<text x="369" y="188" font-size="7" font-weight="bold" text-anchor="start" textLength="38" lengthAdjust="spacingAndGlyphs" fill="#333">Time (hours)</text>
<text x="0" y="0" font-size="6.5" font-weight="normal" fill="#2a2a2a" stroke="#2a2a2a" stroke-width="0.1" text-anchor="middle" textLength="81.6" lengthAdjust="spacingAndGlyphs" transform="translate(264.2,97.3) rotate(-90)">RMSE [10^16 electrons/m^2]</text>
<g stroke="#ededed" stroke-width="0.7" fill="none">
<line x1="277.4" y1="328.4" x2="498.2" y2="328.4"/>
<line x1="277.4" y1="302.17" x2="498.2" y2="302.17"/>
<line x1="277.4" y1="275.95" x2="498.2" y2="275.95"/>
<line x1="277.4" y1="249.72" x2="498.2" y2="249.72"/>
<line x1="277.4" y1="223.5" x2="498.2" y2="223.5"/>
<line x1="287.5" y1="206.2" x2="287.5" y2="349.3"/>
<line x1="333" y1="206.2" x2="333" y2="349.3"/>
<line x1="378.5" y1="206.2" x2="378.5" y2="349.3"/>
<line x1="424" y1="206.2" x2="424" y2="349.3"/>
<line x1="469.5" y1="206.2" x2="469.5" y2="349.3"/>
</g>
<rect x="285.5" y="207.5" width="80" height="60" fill="#fff" fill-opacity="0.5"/>
<polygon points="287.5,333.64 305.7,329.71 323.9,321.84 342.1,298.24 360.3,261.92 378.5,231.76 396.7,213.53 414.9,315.29 433.1,262.84 451.3,242.38 469.5,278.57 487.7,295.62 487.7,332.07 469.5,327.09 451.3,325.78 433.1,325.25 414.9,329.06 396.7,315.29 378.5,315.29 360.3,320.53 342.1,334.56 323.9,339.02 305.7,342.56 287.5,341.64" fill="#4c72b0" fill-opacity="0.22"/>
<polygon points="287.5,325.78 305.7,315.29 323.9,291.69 342.1,282.51 360.3,276.61 378.5,241.86 396.7,223.5 414.9,275.82 433.1,281.19 451.3,285.13 469.5,290.37 487.7,279.75 487.7,328.4 469.5,324.47 451.3,326.43 433.1,320.53 414.9,324.47 396.7,315.29 378.5,313.98 360.3,315.29 342.1,323.15 323.9,327.09 305.7,332.99 287.5,337.58" fill="#dd8452" fill-opacity="0.16"/>
<polygon points="287.5,323.85 305.7,315.85 323.9,290.15 342.1,281.23 360.3,275.46 378.5,237.04 396.7,216.72 414.9,282.02 433.1,282.94 451.3,284.77 469.5,291.85 487.7,285.95 487.7,329.94 469.5,326 451.3,327.97 433.1,321.94 414.9,326 396.7,316.96 378.5,315.78 360.3,316.83 342.1,324.82 323.9,328.36 305.7,334.66 287.5,339.12" fill="#b59d97" fill-opacity="0.35"/>
<polygon points="287.5,325.35 305.7,317.35 323.9,291.65 342.1,282.73 360.3,276.96 378.5,238.54 396.7,218.22 414.9,283.52 433.1,284.44 451.3,286.27 469.5,293.35 487.7,287.45 487.7,328.44 469.5,324.5 451.3,326.47 433.1,320.44 414.9,324.5 396.7,315.46 378.5,314.28 360.3,315.33 342.1,323.32 323.9,326.86 305.7,333.16 287.5,337.62" fill="#b59d97" fill-opacity="0.35"/>
<polygon points="287.5,326.85 305.7,318.85 323.9,293.15 342.1,284.23 360.3,278.46 378.5,240.04 396.7,219.72 414.9,285.02 433.1,285.94 451.3,287.77 469.5,294.85 487.7,288.95 487.7,326.94 469.5,323 451.3,324.97 433.1,318.94 414.9,323 396.7,313.96 378.5,312.78 360.3,313.83 342.1,321.82 323.9,325.36 305.7,331.66 287.5,336.12" fill="#b59d97" fill-opacity="0.35"/>
<polygon points="287.5,328.35 305.7,320.35 323.9,294.65 342.1,285.73 360.3,279.96 378.5,241.54 396.7,221.22 414.9,286.52 433.1,287.44 451.3,289.27 469.5,296.35 487.7,290.45 487.7,325.44 469.5,321.5 451.3,323.47 433.1,317.44 414.9,321.5 396.7,312.46 378.5,311.28 360.3,312.33 342.1,320.32 323.9,323.86 305.7,330.16 287.5,334.62" fill="#b59d97" fill-opacity="0.35"/>
<polygon points="287.5,329.15 305.7,321.85 323.9,296.15 342.1,287.23 360.3,281.46 378.5,243.04 396.7,222.72 414.9,288.02 433.1,288.94 451.3,290.77 469.5,297.85 487.7,291.95 487.7,323.94 469.5,320 451.3,321.97 433.1,315.94 414.9,320 396.7,310.96 378.5,309.78 360.3,310.83 342.1,318.82 323.9,322.36 305.7,328.66 287.5,333.82" fill="#b59d97" fill-opacity="0.35"/>
<polygon points="342.1,304.8 360.3,277.26 378.5,238.84 396.7,218.52 414.9,283.82 433.1,303.49 433.1,303.49 414.9,311.35 396.7,315.29 378.5,313.98 360.3,302.17 342.1,304.8" fill="#ac948a" fill-opacity="0.4" filter="url(#soft)"/>
<polyline points="287.5,338.23 305.7,336.79 323.9,328.4 342.1,315.42 360.3,293.65 378.5,269.13 396.7,267.43 414.9,319.75 433.1,299.55 451.3,288.14 469.5,304.4 487.7,317.25" fill="none" stroke="#4c72b0" stroke-width="1.35" stroke-linejoin="round"/>
<polyline points="287.5,333.78 305.7,324.99 323.9,307.55 342.1,304.4 360.3,296.41 378.5,271.62 396.7,265.59 414.9,294.83 433.1,298.5 451.3,304.01 469.5,305.45 487.7,298.9" fill="none" stroke="#dd8452" stroke-width="1.35" stroke-linejoin="round"/>
<polyline points="287.5,332.86 305.7,324.86 323.9,309.26 342.1,307.03 360.3,301.65 378.5,283.16 396.7,272.02 414.9,303.49 433.1,302.83 451.3,307.94 469.5,308.73 487.7,312.27" fill="none" stroke="#8c8c8c" stroke-width="1.25" stroke-linejoin="round"/>
<polyline points="287.5,332.86 305.7,324.86 323.9,309.26 342.1,307.03 360.3,301.65 378.5,283.16 396.7,272.02 414.9,303.49 433.1,302.83 451.3,307.94 469.5,308.73 487.7,312.27" fill="none" stroke="#937860" stroke-width="1.25" stroke-linejoin="round"/>
<polyline points="287.5,332.86 305.7,324.47 323.9,308.08 342.1,305.85 360.3,301.52 378.5,282.51 396.7,272.02 414.9,303.49 433.1,303.49 451.3,307.94 469.5,308.73 487.7,312.27" fill="none" stroke="#55a868" stroke-width="1.25" stroke-linejoin="round"/>
<polyline points="287.5,332.86 305.7,324.86 323.9,309.26 342.1,307.03 360.3,301.65 378.5,283.16 396.7,272.02 414.9,303.49 433.1,302.83 451.3,307.94 469.5,308.73 487.7,312.27" fill="none" stroke="#8172b3" stroke-width="1.25" stroke-linejoin="round"/>
<polyline points="287.5,333.38 305.7,324.86 323.9,309.39 342.1,307.42 360.3,302.7 378.5,285.26 396.7,270.97 414.9,303.75 433.1,303.49 451.3,308.08 469.5,308.73 487.7,311.35" fill="none" stroke="#c44e52" stroke-width="1.25" stroke-linejoin="round"/>
<polyline points="287.5,334.04 305.7,325.78 323.9,311.35 342.1,308.73 360.3,302.17 378.5,285.13 396.7,273.33 414.9,304.14 433.1,304.14 451.3,309.39 469.5,309.39 487.7,311.35" fill="none" stroke="#da8bc3" stroke-width="1.25" stroke-linejoin="round"/>
<polyline points="287.5,334.3 305.7,326.56 323.9,314.24 342.1,314.63 360.3,300.86 378.5,278.97 396.7,275.43 414.9,304.14 433.1,302.57 451.3,308.73 469.5,310.7 487.7,314.24" fill="none" stroke="#ccb974" stroke-width="1.25" stroke-linejoin="round"/>
<rect x="277.4" y="206.2" width="220.8" height="143.1" fill="none" stroke="#ececec" stroke-width="0.6"/>
<line x1="288" y1="212.3" x2="297.9" y2="212.3" stroke="#4c72b0" stroke-width="1.3"/>
<text x="300.8" y="214.05" font-size="5" font-weight="bold" text-anchor="start" textLength="23.18" lengthAdjust="spacingAndGlyphs" fill="#2a2a2a">C1P RMSE</text>
<line x1="288" y1="218.72" x2="297.9" y2="218.72" stroke="#dd8452" stroke-width="1.3"/>
<text x="300.8" y="220.47" font-size="5" font-weight="bold" text-anchor="start" textLength="24.65" lengthAdjust="spacingAndGlyphs" fill="#2a2a2a">DMD +0.0%</text>
<line x1="288" y1="225.14" x2="297.9" y2="225.14" stroke="#55a868" stroke-width="1.3"/>
<text x="300.8" y="226.89" font-size="5" font-weight="bold" text-anchor="start" textLength="29.71" lengthAdjust="spacingAndGlyphs" fill="#2a2a2a">DMDc +97.1%</text>
<line x1="288" y1="231.56" x2="297.9" y2="231.56" stroke="#c44e52" stroke-width="1.3"/>
<text x="300.8" y="233.31" font-size="5" font-weight="bold" text-anchor="start" textLength="58.28" lengthAdjust="spacingAndGlyphs" fill="#2a2a2a">48h EUV (2h shift) +105.3%</text>
<line x1="288" y1="237.98" x2="297.9" y2="237.98" stroke="#8172b3" stroke-width="1.3"/>
<text x="300.8" y="239.73" font-size="5" font-weight="bold" text-anchor="start" textLength="55.75" lengthAdjust="spacingAndGlyphs" fill="#2a2a2a">48h EUV (4h shift) +94.2%</text>
<line x1="288" y1="244.4" x2="297.9" y2="244.4" stroke="#937860" stroke-width="1.3"/>
<text x="300.8" y="246.15" font-size="5" font-weight="bold" text-anchor="start" textLength="55.75" lengthAdjust="spacingAndGlyphs" fill="#2a2a2a">48h EUV (6h shift) +86.6%</text>
<line x1="288" y1="250.82" x2="297.9" y2="250.82" stroke="#da8bc3" stroke-width="1.3"/>
<text x="300.8" y="252.57" font-size="5" font-weight="bold" text-anchor="start" textLength="58.28" lengthAdjust="spacingAndGlyphs" fill="#2a2a2a">48h EUV (8h shift) +108.7%</text>
<line x1="288" y1="257.24" x2="297.9" y2="257.24" stroke="#8c8c8c" stroke-width="1.3"/>
<text x="300.8" y="258.99" font-size="5" font-weight="bold" text-anchor="start" textLength="60.81" lengthAdjust="spacingAndGlyphs" fill="#2a2a2a">48h EUV (10h shift) +123.5%</text>
<line x1="288" y1="263.66" x2="297.9" y2="263.66" stroke="#ccb974" stroke-width="1.3"/>
<text x="300.8" y="265.41" font-size="5" font-weight="bold" text-anchor="start" textLength="60.81" lengthAdjust="spacingAndGlyphs" fill="#2a2a2a">48h EUV (12h shift) +123.7%</text>
<text x="276.3" y="330.7" font-size="6.3" font-weight="bold" text-anchor="end">2</text>
<text x="276.3" y="304.47" font-size="6.3" font-weight="bold" text-anchor="end">4</text>
<text x="276.3" y="278.25" font-size="6.3" font-weight="bold" text-anchor="end">6</text>
<text x="276.3" y="252.03" font-size="6.3" font-weight="bold" text-anchor="end">8</text>
<text x="276.3" y="225.8" font-size="6.3" font-weight="bold" text-anchor="end">10</text>
<text x="287.5" y="355.8" font-size="6.3" font-weight="bold" text-anchor="middle">0</text>
<text x="333" y="355.8" font-size="6.3" font-weight="bold" text-anchor="middle">5</text>
<text x="378.5" y="355.8" font-size="6.3" font-weight="bold" text-anchor="middle">10</text>
<text x="424" y="355.8" font-size="6.3" font-weight="bold" text-anchor="middle">15</text>
<text x="469.5" y="355.8" font-size="6.3" font-weight="bold" text-anchor="middle">20</text>
<text x="284.1" y="203" font-size="7" font-weight="bold" text-anchor="start" textLength="207.6" lengthAdjust="spacingAndGlyphs" fill="#2e2e2e">Hourly avarage (48h EUV normalized scaling with shifting)</text>
<text x="328.7" y="365" font-size="6.9" font-weight="bold" text-anchor="start" textLength="10.4" lengthAdjust="spacingAndGlyphs">(E)</text>
<text x="368.6" y="365" font-size="7" font-weight="bold" text-anchor="start" textLength="38.4" lengthAdjust="spacingAndGlyphs" fill="#333">Time (hours)</text>
<text x="0" y="0" font-size="6.5" font-weight="normal" fill="#2a2a2a" stroke="#2a2a2a" stroke-width="0.1" text-anchor="middle" textLength="81.6" lengthAdjust="spacingAndGlyphs" transform="translate(264.2,275) rotate(-90)">RMSE [10^16 electrons/m^2]</text>
<g stroke="#ededed" stroke-width="0.7" fill="none">
<line x1="277.4" y1="506.5" x2="498.2" y2="506.5"/>
<line x1="277.4" y1="483.44" x2="498.2" y2="483.44"/>
<line x1="277.4" y1="460.38" x2="498.2" y2="460.38"/>
<line x1="277.4" y1="437.32" x2="498.2" y2="437.32"/>
<line x1="277.4" y1="414.26" x2="498.2" y2="414.26"/>
<line x1="277.4" y1="391.2" x2="498.2" y2="391.2"/>
<line x1="287.5" y1="382.3" x2="287.5" y2="525"/>
<line x1="333" y1="382.3" x2="333" y2="525"/>
<line x1="378.5" y1="382.3" x2="378.5" y2="525"/>
<line x1="424" y1="382.3" x2="424" y2="525"/>
<line x1="469.5" y1="382.3" x2="469.5" y2="525"/>
</g>
<rect x="287.1" y="383.6" width="76" height="60" fill="#fff" fill-opacity="0.5"/>
<polygon points="287.5,509.96 305.7,507.65 323.9,499.58 342.1,483.44 360.3,448.85 378.5,402.73 396.7,391.2 414.9,494.97 433.1,447.81 451.3,433.05 469.5,466.61 487.7,477.68 487.7,510.07 469.5,504.19 451.3,503.62 433.1,504.19 414.9,508.11 396.7,491.51 378.5,491.51 360.3,501.66 342.1,512.26 323.9,515.84 305.7,518.03 287.5,517.68" fill="#4c72b0" fill-opacity="0.22"/>
<polygon points="287.5,496.12 305.7,490.36 323.9,474.1 342.1,464.42 360.3,453.46 378.5,414.26 396.7,402.73 414.9,459.23 433.1,462.69 451.3,464.99 469.5,469.6 487.7,461.76 487.7,506.15 469.5,501.2 451.3,501.2 433.1,496.7 414.9,495.32 396.7,491.51 378.5,490.36 360.3,492.66 342.1,508.81 323.9,508 305.7,509.96 287.5,513.42" fill="#dd8452" fill-opacity="0.16"/>
<polygon points="287.5,494.55 305.7,489.25 323.9,477.72 342.1,475.88 360.3,459.39 378.5,403.35 396.7,391.82 414.9,466.65 433.1,455.93 451.3,457.89 469.5,470.69 487.7,468.96 487.7,507.95 469.5,503 451.3,503 433.1,498.15 414.9,497.12 396.7,492.73 378.5,491.7 360.3,492.85 342.1,510.61 323.9,509.8 305.7,511.53 287.5,515.1" fill="#b59d97" fill-opacity="0.35"/>
<polygon points="287.5,496.05 305.7,490.75 323.9,479.22 342.1,477.38 360.3,460.89 378.5,404.85 396.7,393.32 414.9,468.15 433.1,457.43 451.3,459.39 469.5,472.19 487.7,470.46 487.7,506.45 469.5,501.5 451.3,501.5 433.1,496.65 414.9,495.62 396.7,491.23 378.5,490.2 360.3,491.35 342.1,509.11 323.9,508.3 305.7,510.03 287.5,513.6" fill="#b59d97" fill-opacity="0.35"/>
<polygon points="287.5,497.55 305.7,492.25 323.9,480.72 342.1,478.88 360.3,462.39 378.5,406.35 396.7,394.82 414.9,469.65 433.1,458.93 451.3,460.89 469.5,473.69 487.7,471.96 487.7,504.95 469.5,500 451.3,500 433.1,495.15 414.9,494.12 396.7,489.73 378.5,488.7 360.3,489.85 342.1,507.61 323.9,506.8 305.7,508.53 287.5,512.1" fill="#b59d97" fill-opacity="0.35"/>
<polygon points="287.5,499.05 305.7,493.75 323.9,482.22 342.1,480.38 360.3,463.89 378.5,407.85 396.7,396.32 414.9,471.15 433.1,460.43 451.3,462.39 469.5,475.19 487.7,473.46 487.7,503.45 469.5,498.5 451.3,498.5 433.1,493.65 414.9,492.62 396.7,488.23 378.5,487.2 360.3,488.35 342.1,506.11 323.9,505.3 305.7,507.03 287.5,510.6" fill="#b59d97" fill-opacity="0.35"/>
<polygon points="287.5,500.55 305.7,495.25 323.9,483.72 342.1,481.88 360.3,465.39 378.5,409.35 396.7,397.82 414.9,472.65 433.1,461.93 451.3,463.89 469.5,476.69 487.7,474.96 487.7,501.95 469.5,497 451.3,497 433.1,492.15 414.9,491.12 396.7,486.73 378.5,485.7 360.3,486.85 342.1,504.61 323.9,503.8 305.7,505.53 287.5,509.1" fill="#b59d97" fill-opacity="0.35"/>
<polygon points="342.1,489.2 360.3,461.53 378.5,405.15 396.7,393.62 414.9,468.45 433.1,478.83 433.1,478.83 414.9,489.2 396.7,490.93 378.5,489.9 360.3,478.83 342.1,489.2" fill="#ac948a" fill-opacity="0.4" filter="url(#soft)"/>
<polyline points="287.5,514.46 305.7,513.3 323.9,505.35 342.1,497.28 360.3,475.37 378.5,454.15 396.7,452.31 414.9,498.2 433.1,480.44 451.3,470.87 469.5,485.4 487.7,497.16" fill="none" stroke="#4c72b0" stroke-width="1.35" stroke-linejoin="round"/>
<polyline points="287.5,510.65 305.7,502.58 323.9,489.55 342.1,483.9 360.3,477.68 378.5,456.69 396.7,450.93 414.9,477.44 433.1,479.98 451.3,484.02 469.5,485.75 487.7,480.44" fill="none" stroke="#dd8452" stroke-width="1.35" stroke-linejoin="round"/>
<polyline points="287.5,507.65 305.7,500.74 323.9,494.39 342.1,494.39 360.3,475.37 378.5,453.46 396.7,448.85 414.9,480.44 433.1,475.37 451.3,482.86 469.5,491.51 487.7,493.82" fill="none" stroke="#8c8c8c" stroke-width="1.25" stroke-linejoin="round"/>
<polyline points="287.5,507.65 305.7,500.74 323.9,494.39 342.1,494.39 360.3,475.37 378.5,453.46 396.7,448.85 414.9,480.44 433.1,475.37 451.3,482.86 469.5,491.51 487.7,493.82" fill="none" stroke="#937860" stroke-width="1.25" stroke-linejoin="round"/>
<polyline points="287.5,506.15 305.7,499.93 323.9,493.36 342.1,489.55 360.3,469.72 378.5,447.81 396.7,445.39 414.9,480.44 433.1,472.49 451.3,482.29 469.5,492.32 487.7,498.2" fill="none" stroke="#55a868" stroke-width="1.25" stroke-linejoin="round"/>
<polyline points="287.5,507.65 305.7,500.74 323.9,494.39 342.1,494.39 360.3,475.37 378.5,453.46 396.7,448.85 414.9,480.44 433.1,475.37 451.3,482.86 469.5,491.51 487.7,493.82" fill="none" stroke="#8172b3" stroke-width="1.25" stroke-linejoin="round"/>
<polyline points="287.5,505.35 305.7,498.89 323.9,493.82 342.1,493.7 360.3,474.22 378.5,450.81 396.7,443.43 414.9,478.25 433.1,478.83 451.3,484.59 469.5,495.32 487.7,496.12" fill="none" stroke="#c44e52" stroke-width="1.25" stroke-linejoin="round"/>
<polyline points="287.5,507.08 305.7,500.16 323.9,494.39 342.1,494.05 360.3,474.79 378.5,449.43 396.7,446.54 414.9,480.44 433.1,474.33 451.3,483.44 469.5,489.2 487.7,491.28" fill="none" stroke="#da8bc3" stroke-width="1.25" stroke-linejoin="round"/>
<polyline points="287.5,508 305.7,503.5 323.9,491.86 342.1,496.01 360.3,477.68 378.5,455.77 396.7,448.27 414.9,483.44 433.1,483.44 451.3,487.24 469.5,492.66 487.7,495.2" fill="none" stroke="#ccb974" stroke-width="1.25" stroke-linejoin="round"/>
<rect x="277.4" y="382.3" width="220.8" height="142.7" fill="none" stroke="#ececec" stroke-width="0.6"/>
<line x1="290" y1="388.2" x2="300.2" y2="388.2" stroke="#4c72b0" stroke-width="1.3"/>
<text x="303.4" y="389.95" font-size="5" font-weight="bold" text-anchor="start" textLength="23.18" lengthAdjust="spacingAndGlyphs" fill="#2a2a2a">C1P RMSE</text>
<line x1="290" y1="394.6" x2="300.2" y2="394.6" stroke="#dd8452" stroke-width="1.3"/>
<text x="303.4" y="396.35" font-size="5" font-weight="bold" text-anchor="start" textLength="24.65" lengthAdjust="spacingAndGlyphs" fill="#2a2a2a">DMD +0.0%</text>
<line x1="290" y1="401" x2="300.2" y2="401" stroke="#55a868" stroke-width="1.3"/>
<text x="303.4" y="402.75" font-size="5" font-weight="bold" text-anchor="start" textLength="28.7" lengthAdjust="spacingAndGlyphs" fill="#2a2a2a">DMDc +-6.9%</text>
<line x1="290" y1="407.4" x2="300.2" y2="407.4" stroke="#c44e52" stroke-width="1.3"/>
<text x="303.4" y="409.15" font-size="5" font-weight="bold" text-anchor="start" textLength="53.22" lengthAdjust="spacingAndGlyphs" fill="#2a2a2a">72h EUV (2h shift) +2.1%</text>
<line x1="290" y1="413.8" x2="300.2" y2="413.8" stroke="#8172b3" stroke-width="1.3"/>
<text x="303.4" y="415.55" font-size="5" font-weight="bold" text-anchor="start" textLength="55.75" lengthAdjust="spacingAndGlyphs" fill="#2a2a2a">72h EUV (4h shift) +22.6%</text>
<line x1="290" y1="420.2" x2="300.2" y2="420.2" stroke="#937860" stroke-width="1.3"/>
<text x="303.4" y="421.95" font-size="5" font-weight="bold" text-anchor="start" textLength="53.22" lengthAdjust="spacingAndGlyphs" fill="#2a2a2a">72h EUV (6h shift) +6.6%</text>
<line x1="290" y1="426.6" x2="300.2" y2="426.6" stroke="#da8bc3" stroke-width="1.3"/>
<text x="303.4" y="428.35" font-size="5" font-weight="bold" text-anchor="start" textLength="55.75" lengthAdjust="spacingAndGlyphs" fill="#2a2a2a">72h EUV (8h shift) +12.4%</text>
<line x1="290" y1="433" x2="300.2" y2="433" stroke="#8c8c8c" stroke-width="1.3"/>
<text x="303.4" y="434.75" font-size="5" font-weight="bold" text-anchor="start" textLength="58.28" lengthAdjust="spacingAndGlyphs" fill="#2a2a2a">72h EUV (10h shift) +44.6%</text>
<line x1="290" y1="439.4" x2="300.2" y2="439.4" stroke="#ccb974" stroke-width="1.3"/>
<text x="303.4" y="441.15" font-size="5" font-weight="bold" text-anchor="start" textLength="58.28" lengthAdjust="spacingAndGlyphs" fill="#2a2a2a">72h EUV (12h shift) +66.2%</text>
<text x="276.3" y="508.8" font-size="6.3" font-weight="bold" text-anchor="end">2</text>
<text x="276.3" y="485.74" font-size="6.3" font-weight="bold" text-anchor="end">4</text>
<text x="276.3" y="462.68" font-size="6.3" font-weight="bold" text-anchor="end">6</text>
<text x="276.3" y="439.62" font-size="6.3" font-weight="bold" text-anchor="end">8</text>
<text x="276.3" y="416.56" font-size="6.3" font-weight="bold" text-anchor="end">10</text>
<text x="276.3" y="393.5" font-size="6.3" font-weight="bold" text-anchor="end">12</text>
<text x="287.5" y="531.8" font-size="6.3" font-weight="bold" text-anchor="middle">0</text>
<text x="333" y="531.8" font-size="6.3" font-weight="bold" text-anchor="middle">5</text>
<text x="378.5" y="531.8" font-size="6.3" font-weight="bold" text-anchor="middle">10</text>
<text x="424" y="531.8" font-size="6.3" font-weight="bold" text-anchor="middle">15</text>
<text x="469.5" y="531.8" font-size="6.3" font-weight="bold" text-anchor="middle">20</text>
<text x="284.1" y="379.5" font-size="7" font-weight="bold" text-anchor="start" textLength="207.6" lengthAdjust="spacingAndGlyphs" fill="#2e2e2e">Hourly avarage (72h EUV normalized scaling with shifting)</text>
<text x="328.7" y="541.7" font-size="6.9" font-weight="bold" text-anchor="start" textLength="10.4" lengthAdjust="spacingAndGlyphs">(F)</text>
<text x="369" y="541.7" font-size="7" font-weight="bold" text-anchor="start" textLength="38" lengthAdjust="spacingAndGlyphs" fill="#333">Time (hours)</text>
<text x="0" y="0" font-size="6.5" font-weight="normal" fill="#2a2a2a" stroke="#2a2a2a" stroke-width="0.1" text-anchor="middle" textLength="81.6" lengthAdjust="spacingAndGlyphs" transform="translate(264.2,452) rotate(-90)">RMSE [10^16 electrons/m^2]</text>
</svg>
</body></html>
